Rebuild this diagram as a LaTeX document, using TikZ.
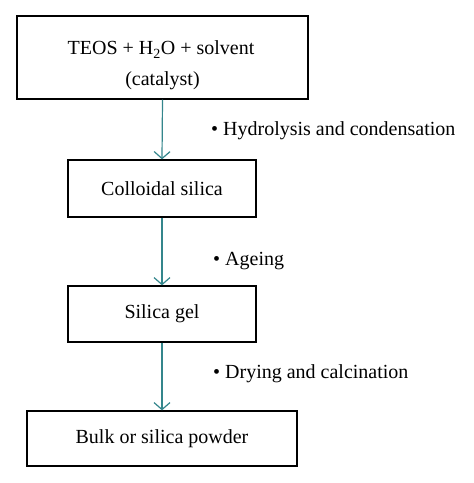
\documentclass[tikz,border=0pt]{standalone}
\usepackage{fontspec}
\setmainfont{Liberation Serif}
\usetikzlibrary{arrows.meta}
\definecolor{teal1}{RGB}{52,134,140}
\tikzset{
  box/.style={draw=black, line width=1.3pt, inner sep=0pt, font=\fontsize{20}{24}\selectfont},
  txt/.style={font=\fontsize{20}{24}\selectfont, anchor=base},
  flow/.style={draw=teal1, line width=1.2pt, -{Straight Barb[length=7pt,width=16pt,line width=1.2pt]}},
  lab/.style={anchor=base west, inner sep=0pt, font=\fontsize{20}{24}\selectfont}
}
\begin{document}
\begin{tikzpicture}[x=1pt,y=1pt]
\useasboundingbox (0,0) rectangle (474,483);
% y_tikz = 483 - y_px
\node[box, minimum width=291pt, minimum height=83pt] (b1) at (162.5,425.5) {};
\node[txt] (t1) at (161,428) {TEOS + H\textsubscript{2}O + solvent};
\node[txt] (t2) at (162.5,397) {(catalyst)};
\node[box, minimum width=188pt, minimum height=57pt] (b2) at (162,294.5) {Colloidal silica};
\node[box, minimum width=188pt, minimum height=56pt] (b3) at (162,169) {Silica gel};
\node[box, minimum width=270pt, minimum height=55pt] (b4) at (162,44.5) {Bulk or silica powder};
\draw[flow] (b1.south) -- (b2.north);
\draw[flow] (b2.south) -- (b3.north);
\draw[flow] (b3.south) -- (b4.north);
\node[lab] (l1) at (211,347) {\textbullet\ Hydrolysis and condensation};
\node[lab] (l2) at (213,217) {\textbullet\ Ageing};
\node[lab] (l3) at (213,104) {\textbullet\ Drying and calcination};
\end{tikzpicture}
\end{document}
